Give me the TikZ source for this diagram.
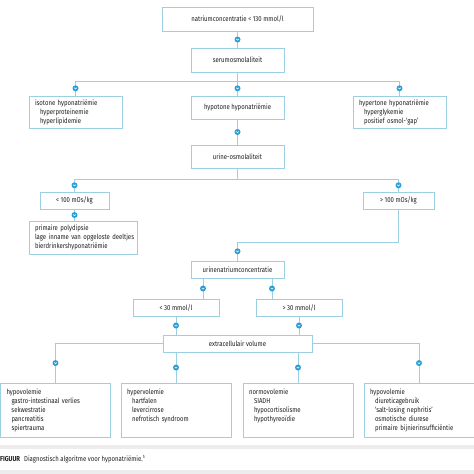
\documentclass[tikz,border=0pt]{standalone}
\usepackage{fontspec}
\setmainfont{Fira Sans}[FakeStretch=0.83]
\definecolor{boxline}{HTML}{9CCFE2}
\definecolor{dotblue}{HTML}{2A9FD6}
\definecolor{txtcol}{HTML}{1E1E1E}
\definecolor{barcol}{HTML}{EDEDED}
\begin{document}
\begin{tikzpicture}[x=1pt,y=-1pt,
  every node/.style={font=\fontsize{7.2}{9}\selectfont, text=txtcol},
  box/.style={draw=boxline, line width=0.8pt, fill=white, inner sep=0pt, align=center},
  lbox/.style={box, align=left, inner xsep=6pt, inner ysep=0pt},
  conn/.style={draw=boxline, line width=0.8pt},
  knob/.style={circle, fill=dotblue, minimum size=6pt, inner sep=0pt,
    path picture={\draw[white, line width=0.55pt, line cap=round, line join=round]
      ([xshift=-1.3pt,yshift=0.5pt]path picture bounding box.center) --
      ([yshift=-0.8pt]path picture bounding box.center) --
      ([xshift=1.3pt,yshift=0.5pt]path picture bounding box.center);}}
]
\useasboundingbox (0,0) rectangle (474,474);

% nodes
\node[box, minimum width=151pt, minimum height=24pt] (n1) at (237.5,19) {natriumconcentratie < 130 mmol/l};
\node[box, minimum width=93pt, minimum height=24pt] (s1) at (237.5,60) {serumosmolaliteit};
\node[lbox, minimum width=93pt, minimum height=32pt, text width=81pt] (iso) at (75.5,112)
  {isotone hyponatriëmie\\\hspace*{5pt}hyperproteinemie\\\hspace*{5pt}hyperlipidemie};
\node[box, minimum width=93pt, minimum height=23pt] (hypo) at (237.5,107.5) {hypotone hyponatriëmie};
\node[lbox, minimum width=93pt, minimum height=32pt, text width=81pt] (hyper) at (399.5,112)
  {hypertone hyponatriëmie\\\hspace*{5pt}hyperglykemie\\\hspace*{5pt}positief osmol-‘gap’};
\node[box, minimum width=93pt, minimum height=23pt] (uo) at (237.5,156.5) {urine-osmolaliteit};
\node[box, minimum width=69pt, minimum height=17pt] (lt100) at (74.5,200.5) {< 100 mOs/kg};
\node[box, minimum width=71pt, minimum height=17pt] (gt100) at (398.5,200.5) {> 100 mOs/kg};
\node[lbox, minimum width=108pt, minimum height=33pt, text width=96pt] (prim) at (83,237.5)
  {primaire polydipsie\\\mbox{lage inname van opgeloste deeltjes}\\bierdrinkershyponatriëmie};
\node[box, minimum width=93pt, minimum height=17pt] (un) at (237.5,269.5) {urinenatriumconcentratie};
\node[box, minimum width=86pt, minimum height=17pt] (lt30) at (176,307.5) {< 30 mmol/l};
\node[box, minimum width=86pt, minimum height=17pt] (gt30) at (299,307.5) {> 30 mmol/l};

% connectors (drawn before ext box so lines pass under it)
\coordinate (j1) at (237.5,81);
\coordinate (j2) at (237.5,179);
\coordinate (j3) at (237.5,242);
\draw[conn] (n1.south) -- node[knob]{} (s1.north);
\draw[conn] (s1.south) -- (j1);
\draw[conn] (j1) -| node[knob,pos=0.75]{} (iso.north);
\draw[conn] (j1) -| node[knob,pos=0.75]{} (hyper.north);
\draw[conn] (j1) -- node[knob]{} (hypo.north);
\draw[conn] (hypo.south) -- node[knob]{} (uo.north);
\draw[conn] (uo.south) -- (j2);
\draw[conn] (j2) -| node[knob,pos=0.75]{} (lt100.north);
\draw[conn] (j2) -| node[knob,pos=0.75]{} (gt100.north);
\draw[conn] (lt100.south) -- node[knob]{} (lt100.south |- prim.north);
\draw[conn] (gt100.south) |- (j3);
\draw[conn] (j3) -- node[knob]{} (un.north);
\draw[conn] ([xshift=-34.5pt]un.south) -- node[knob]{} ([xshift=27pt]lt30.north);
\draw[conn] ([xshift=34.5pt]un.south) -- node[knob]{} ([xshift=-27pt]gt30.north);

\node[box, minimum width=149pt, minimum height=17pt] (ext) at (237.5,343.5) {extracellulair volume};

\node[lbox, minimum width=110pt, minimum height=54pt, text width=98pt] (b1) at (55.5,410)
  {hypovolemie\\\hspace*{5pt}gastro-intestinaal verlies\\\hspace*{5pt}sekwestratie\\\hspace*{5pt}pancreatitis\\\hspace*{5pt}spiertrauma};
\node[lbox, minimum width=110pt, minimum height=54pt, text width=98pt] (b2) at (176,410)
  {hypervolemie\\\hspace*{5pt}hartfalen\\\hspace*{5pt}levercirrose\\\hspace*{5pt}nefrotisch syndroom\\~};
\node[lbox, minimum width=110pt, minimum height=54pt, text width=98pt] (b3) at (298,410)
  {normovolemie\\\hspace*{5pt}SIADH\\\hspace*{5pt}hypocortisolisme\\\hspace*{5pt}hypothyreoïdie\\~};
\node[lbox, minimum width=110pt, minimum height=54pt, text width=98pt] (b4) at (419,410)
  {hypovolemie\\\hspace*{5pt}diureticagebruik\\\hspace*{5pt}‘salt-losing nephritis’\\\hspace*{5pt}osmotische diurese\\\hspace*{5pt}\mbox{primaire bijnierinsufficiëntie}};

\draw[conn] (lt30.south) -- node[knob]{} (lt30.south |- ext.north);
\draw[conn] (gt30.south) -- node[knob]{} (gt30.south |- ext.north);
\draw[conn] (ext.west) -| node[knob,pos=0.75]{} (b1.north);
\draw[conn] (ext.east) -| node[knob,pos=0.75]{} (b4.north);
\draw[conn] (b2.north |- ext.south) -- node[knob]{} (b2.north);
\draw[conn] (b3.north |- ext.south) -- node[knob]{} (b3.north);

% caption
\fill[barcol] (0,445) rectangle (474,448.5);
\fill[barcol] (0,470) rectangle (474,473.5);
\node[anchor=west, inner sep=0pt] (cap) at (0,459)
  {\textbf{FIGUUR}\hspace{4pt}Diagnostisch algoritme voor hyponatriëmie.\textsuperscript{\fontsize{4.5}{5}\selectfont 5}};
\end{tikzpicture}
\end{document}
